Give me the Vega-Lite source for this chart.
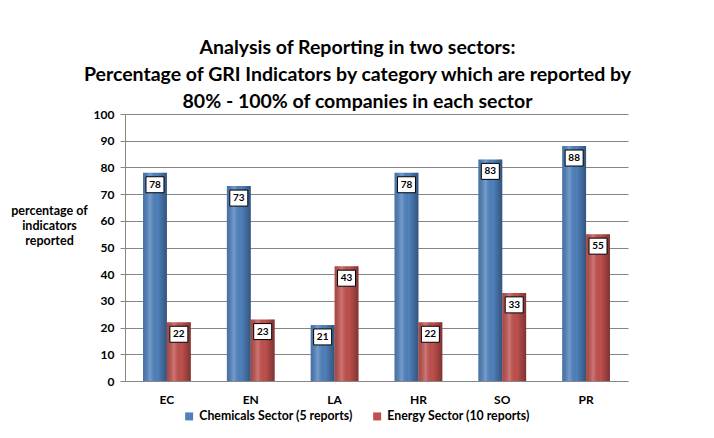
{
  "$schema": "https://vega.github.io/schema/vega-lite/v6.json",
  "width": 503,
  "height": 267,
  "autosize": {"type": "none"},
  "padding": {"left": 125, "top": 114, "right": 86, "bottom": 57},
  "background": "white",
  "config": {
    "font": "Lato",
    "view": {"stroke": null}
  },
  "title": {
    "text": ["Analysis of Reporting in two sectors:", "Percentage of GRI Indicators by category which are reported by", "80% - 100% of companies in each sector"],
    "fontSize": 19.5,
    "fontWeight": "bold",
    "lineHeight": 27,
    "anchor": "middle",
    "dx": -19,
    "offset": -4,
    "color": "black"
  },
  "data": {
    "values": [
      {"category": "EC", "sector": "Chemicals Sector (5 reports)", "value": 78},
      {"category": "EC", "sector": "Energy Sector (10 reports)", "value": 22},
      {"category": "EN", "sector": "Chemicals Sector (5 reports)", "value": 73},
      {"category": "EN", "sector": "Energy Sector (10 reports)", "value": 23},
      {"category": "LA", "sector": "Chemicals Sector (5 reports)", "value": 21},
      {"category": "LA", "sector": "Energy Sector (10 reports)", "value": 43},
      {"category": "HR", "sector": "Chemicals Sector (5 reports)", "value": 78},
      {"category": "HR", "sector": "Energy Sector (10 reports)", "value": 22},
      {"category": "SO", "sector": "Chemicals Sector (5 reports)", "value": 83},
      {"category": "SO", "sector": "Energy Sector (10 reports)", "value": 33},
      {"category": "PR", "sector": "Chemicals Sector (5 reports)", "value": 88},
      {"category": "PR", "sector": "Energy Sector (10 reports)", "value": 55}
    ]
  },
  "encoding": {
    "x": {
      "field": "category", "type": "nominal", "sort": null,
      "scale": {"paddingInner": 0.43, "paddingOuter": 0.215},
      "axis": {"title": null, "labelAngle": 0, "labelFontWeight": "bold", "labelFontSize": 12, "labelColor": "black", "labelPadding": 13, "domainColor": "#868686", "tickColor": "#868686", "ticks": false}
    },
    "xOffset": {"field": "sector", "type": "nominal", "scale": {"domain": ["Chemicals Sector (5 reports)", "Energy Sector (10 reports)"]}},
    "y": {
      "field": "value", "type": "quantitative",
      "scale": {"domain": [0, 100], "nice": false},
      "axis": {
        "values": [0, 10, 20, 30, 40, 50, 60, 70, 80, 90, 100],
        "title": ["percentage of", "indicators", "reported"],
        "titleAngle": 0, "titleAlign": "center", "titleBaseline": "top",
        "titleX": -76, "titleY": 90, "titleFontSize": 12.5, "titleFontWeight": "bold", "titleLineHeight": 15, "titleColor": "black",
        "labelFontWeight": "bold", "labelFontSize": 12, "labelColor": "black", "labelPadding": 6,
        "gridColor": "#868686", "domainColor": "#868686", "tickColor": "#868686", "tickSize": 5
      }
    }
  },
  "layer": [
    {
      "mark": {"type": "bar"},
      "encoding": {
        "color": {
          "field": "sector", "type": "nominal",
          "scale": {"domain": ["Chemicals Sector (5 reports)", "Energy Sector (10 reports)"], "range": ["#4F81BD", "#C0504D"]},
          "legend": {"orient": "none", "legendX": 58, "legendY": 296, "direction": "horizontal", "title": null, "symbolType": "square", "symbolSize": 64, "labelFontSize": 12.3, "labelFontWeight": "bold", "labelColor": "black", "columnPadding": 18, "symbolOpacity": 1}
        }
      }
    },
    {
      "mark": {
        "type": "bar",
        "fill": {
          "gradient": "linear", "x1": 0, "x2": 1, "y1": 0, "y2": 0,
          "stops": [
            {"offset": 0, "color": "rgba(0,0,0,0.12)"},
            {"offset": 0.3, "color": "rgba(255,255,255,0.22)"},
            {"offset": 0.6, "color": "rgba(0,0,0,0.0)"},
            {"offset": 1, "color": "rgba(0,0,0,0.35)"}
          ]
        }
      }
    },
    {
      "mark": {"type": "point", "shape": "M-0.9,-0.8L0.9,-0.8L0.9,0.8L-0.9,0.8Z", "size": 400, "filled": true, "fill": "white", "stroke": "black", "strokeWidth": 1, "opacity": 1, "yOffset": 12}
    },
    {
      "mark": {"type": "text", "fontSize": 10, "fontWeight": "bold", "color": "black", "yOffset": 12, "baseline": "middle"},
      "encoding": {"text": {"field": "value", "type": "quantitative"}}
    }
  ]
}
